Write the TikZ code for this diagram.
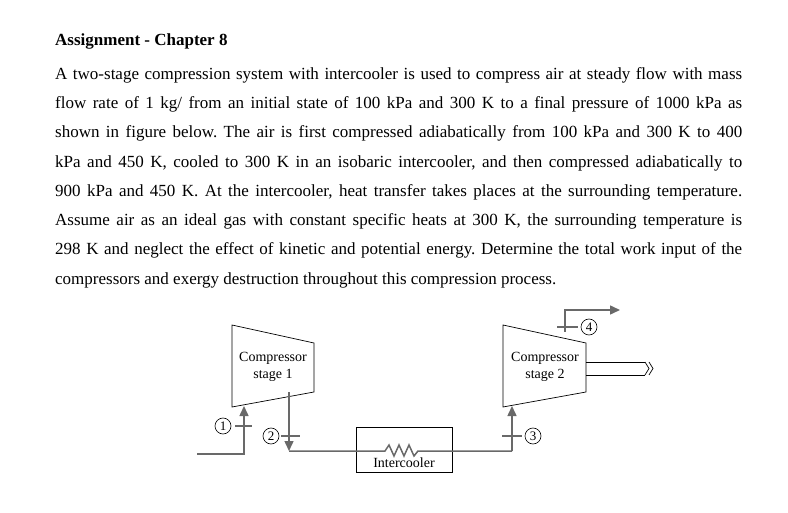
\documentclass[tikz,border=0pt]{standalone}
\usepackage{fontspec}
\setmainfont{Liberation Serif}
\usetikzlibrary{arrows.meta}
\definecolor{lg}{RGB}{105,105,105}
\begin{document}
\begin{tikzpicture}[x=1pt,y=-1pt,
  ln/.style={draw=lg,line width=1.5pt},
  arr/.style={ln,-{Triangle[width=9pt,length=10pt]}},
  num/.style={circle,draw=black,line width=0.6pt,inner sep=0pt,minimum size=16pt,font=\fontsize{13}{13}\selectfont},
  lbl/.style={font=\fontsize{14}{17}\selectfont,align=center}]
\useasboundingbox (0,0) rectangle (788,513);
\node[anchor=base west,inner sep=0pt,font=\fontsize{17}{17}\selectfont\bfseries] (title) at (55,46) {Assignment - Chapter 8};
\node[anchor=north west,inner sep=0pt] (para) at (55,67) {\begin{minipage}[t]{687pt}\fontsize{17}{29.3}\selectfont\frenchspacing
A two-stage compression system with intercooler is used to compress air at steady flow with mass\linebreak
flow rate of 1 kg/ from an initial state of 100 kPa and 300 K to a final pressure of 1000 kPa as\linebreak
shown in figure below. The air is first compressed adiabatically from 100 kPa and 300 K to 400\linebreak
kPa and 450 K, cooled to 300 K in an isobaric intercooler, and then compressed adiabatically to\linebreak
900 kPa and 450 K. At the intercooler, heat transfer takes places at the surrounding temperature.\linebreak
Assume air as an ideal gas with constant specific heats at 300 K, the surrounding temperature is\linebreak
298 K and neglect the effect of kinetic and potential energy. Determine the total work input of the\linebreak
compressors and exergy destruction throughout this compression process.\end{minipage}};
% compressors
\draw[line width=0.7pt] (232,325) -- (314,343) -- (314,392) -- (232,407) -- cycle;
\node[lbl] (c1) at (273,367) {Compressor\\stage 1};
\draw[line width=0.7pt] (503,325) -- (586,343) -- (586,392) -- (503,407) -- cycle;
\node[lbl] (c2) at (545,367) {Compressor\\stage 2};
\coordinate (c1in) at (244,406);
\coordinate (c1out) at (289,392);
\coordinate (c2in) at (512,406);
\coordinate (c2out) at (565,332);
% intercooler
\draw[line width=0.7pt] (356,427) rectangle (452,472);
\node[lbl,inner sep=0pt] (ic) at (404,463) {Intercooler};
% flow lines
\coordinate (start) at (197,454);
\draw[arr] (start) -- (244,454) -- (c1in);
\draw[arr] (c1out) -- (289,451);
\draw[ln] (289,451) -- (385,451) -- (389,445) -- (394,456) -- (399,445) -- (404,456) -- (409,445) -- (414,456) -- (418,451) -- (512,451);
\draw[arr] (512,451) -- (c2in);
\draw[arr] (c2out) -- (565,310) -- (620,310);
% shaft
\draw[line width=0.7pt] (586,362) -- (645,362) (586,375) -- (645,375);
\draw[line width=0.7pt] (645,362) -- (649,368.5) -- (645,375) (649,362) -- (653,368.5) -- (649,375);
% states
\node[num] (s1) at (223,426) {1};
\draw[ln] (235,426) -- (252,426);
\node[num] (s2) at (271,436) {2};
\draw[ln] (281,436) -- (300,436);
\node[num] (s3) at (533,436) {3};
\draw[ln] (502,436) -- (522,436);
\node[num] (s4) at (589,327) {4};
\draw[ln] (557,327) -- (578,327);
\end{tikzpicture}
\end{document}
